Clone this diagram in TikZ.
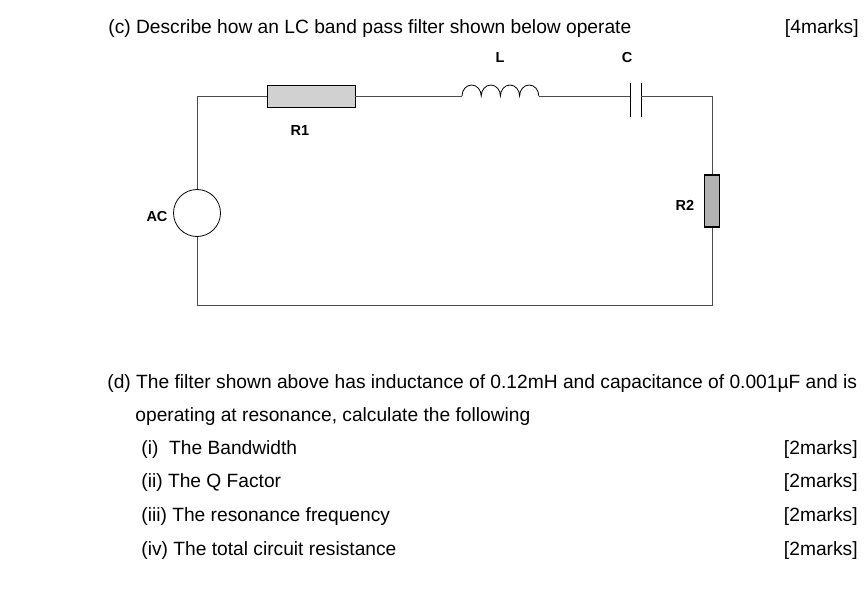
\documentclass[tikz,border=0pt]{standalone}
\usepackage{fontspec}
\setmainfont{Liberation Sans}
\begin{document}
\begin{tikzpicture}[x=1pt,y=-1pt,line width=0.8pt,
  txt/.style={anchor=west,font=\fontsize{19.2}{22}\selectfont,inner sep=0pt},
  mk/.style={anchor=east,font=\fontsize{19.2}{22}\selectfont,inner sep=0pt},
  lbl/.style={font=\bfseries\fontsize{14.5}{16}\selectfont,inner sep=0pt},
  wire/.style={draw=black!70}]
\useasboundingbox (0,0) rectangle (864,591);
\node[txt] (c) at (108,29) {(c) Describe how an LC band pass filter shown below operate};
\node[mk] (cm) at (859,29) {[4marks]};
% circuit
\coordinate (tl) at (197,96); \coordinate (tr) at (712,96);
\coordinate (bl) at (197,305); \coordinate (br) at (712,305);
\node[draw,fill=black!18,minimum width=88pt,minimum height=22pt,inner sep=0pt] (r1) at (311,96) {};
\node[draw,line width=1.5pt,fill=black!30,minimum width=15pt,minimum height=52pt,inner sep=0pt] (r2) at (712,201) {};
\node[draw,circle,minimum size=47pt,inner sep=0pt] (ac) at (197,213) {};
\coordinate (l1) at (462,96); \coordinate (l2) at (539,96);
\coordinate (c1) at (630,96); \coordinate (c2) at (641,96);
\draw[wire] (ac.north) -- (tl) -- (r1.west);
\draw[wire] (r1.east) -- (l1);
\draw (l1) arc[start angle=180,end angle=360,x radius=9.6,y radius=11] arc[start angle=180,end angle=360,x radius=9.6,y radius=11] arc[start angle=180,end angle=360,x radius=9.6,y radius=11] arc[start angle=180,end angle=360,x radius=9.6,y radius=11];
\draw[wire] (l2) -- (c1);
\draw (630,83) -- (630,117); \draw (641,83) -- (641,117);
\draw[wire] (c2) -- (tr) -- (r2.north);
\draw[wire] (r2.south) -- (br) -- (bl) -- (ac.south);
\node[lbl] (lL) at (500,58) {L};
\node[lbl] (lC) at (627,58) {C};
\node[lbl] (lR1) at (300,131) {R1};
\node[lbl] (lAC) at (157,217) {AC};
\node[lbl] (lR2) at (685,205) {R2};
% part d
\node[txt] (d) at (107,384) {(d) The filter shown above has inductance of 0.12mH and capacitance of 0.001µF and is};
\node[txt] (d2) at (135,417) {operating at resonance, calculate the following};
\node[txt] (i) at (141,450) {(i)\ \ The Bandwidth};
\node[txt] (ii) at (141,483) {(ii) The Q Factor};
\node[txt] (iii) at (141,517) {(iii) The resonance frequency};
\node[txt] (iv) at (141,551) {(iv) The total circuit resistance};
\node[mk] at (858,450) {[2marks]};
\node[mk] at (858,483) {[2marks]};
\node[mk] at (858,517) {[2marks]};
\node[mk] at (858,551) {[2marks]};
\end{tikzpicture}
\end{document}
